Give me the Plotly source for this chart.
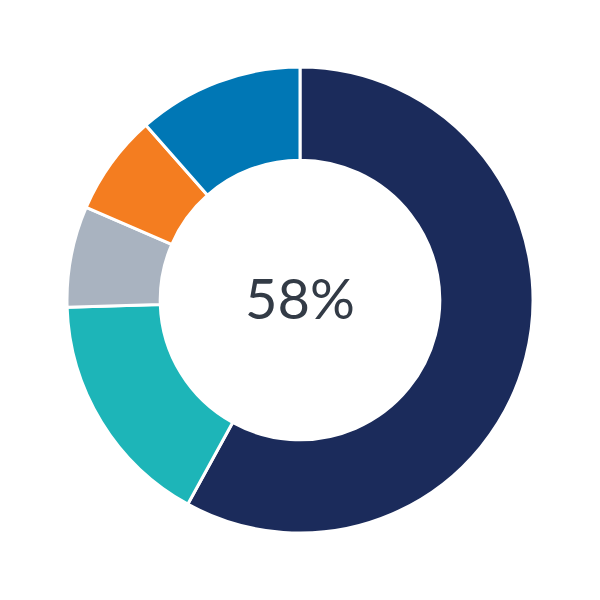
import plotly.graph_objects as go

# slice shares, clockwise from 12 o'clock
labels = ['Navy', 'Teal', 'Gray', 'Orange', 'Blue']
values = [58, 16.5, 7, 7, 11.5]
colors = ['#1b2b5b', '#1db5b8', '#a9b3c0', '#f47d20', '#0077b5']
center_text = '58%'

# page body adds an 8px offset, so pull the ring up/left to compensate
fig = go.Figure(go.Pie(
    labels=labels,
    values=values,
    hole=0.6,
    sort=False,
    direction='clockwise',
    rotation=0,
    textinfo='none',
    hoverinfo='label+percent',
    marker=dict(colors=colors, line=dict(color='white', width=3)),
    domain=dict(x=[59 / 600, 525 / 600], y=[75 / 600, 541 / 600]),
))

fig.add_annotation(
    text=center_text, x=292 / 600, y=308 / 600, xref='paper', yref='paper',
    showarrow=False, yshift=3,
    font=dict(family='Lato', size=56, color='#333b46'),
)

fig.update_layout(
    width=600, height=600,
    margin=dict(l=0, r=0, t=0, b=0),
    showlegend=False,
    paper_bgcolor='white',
    plot_bgcolor='white',
)

fig.write_html('out.html')
